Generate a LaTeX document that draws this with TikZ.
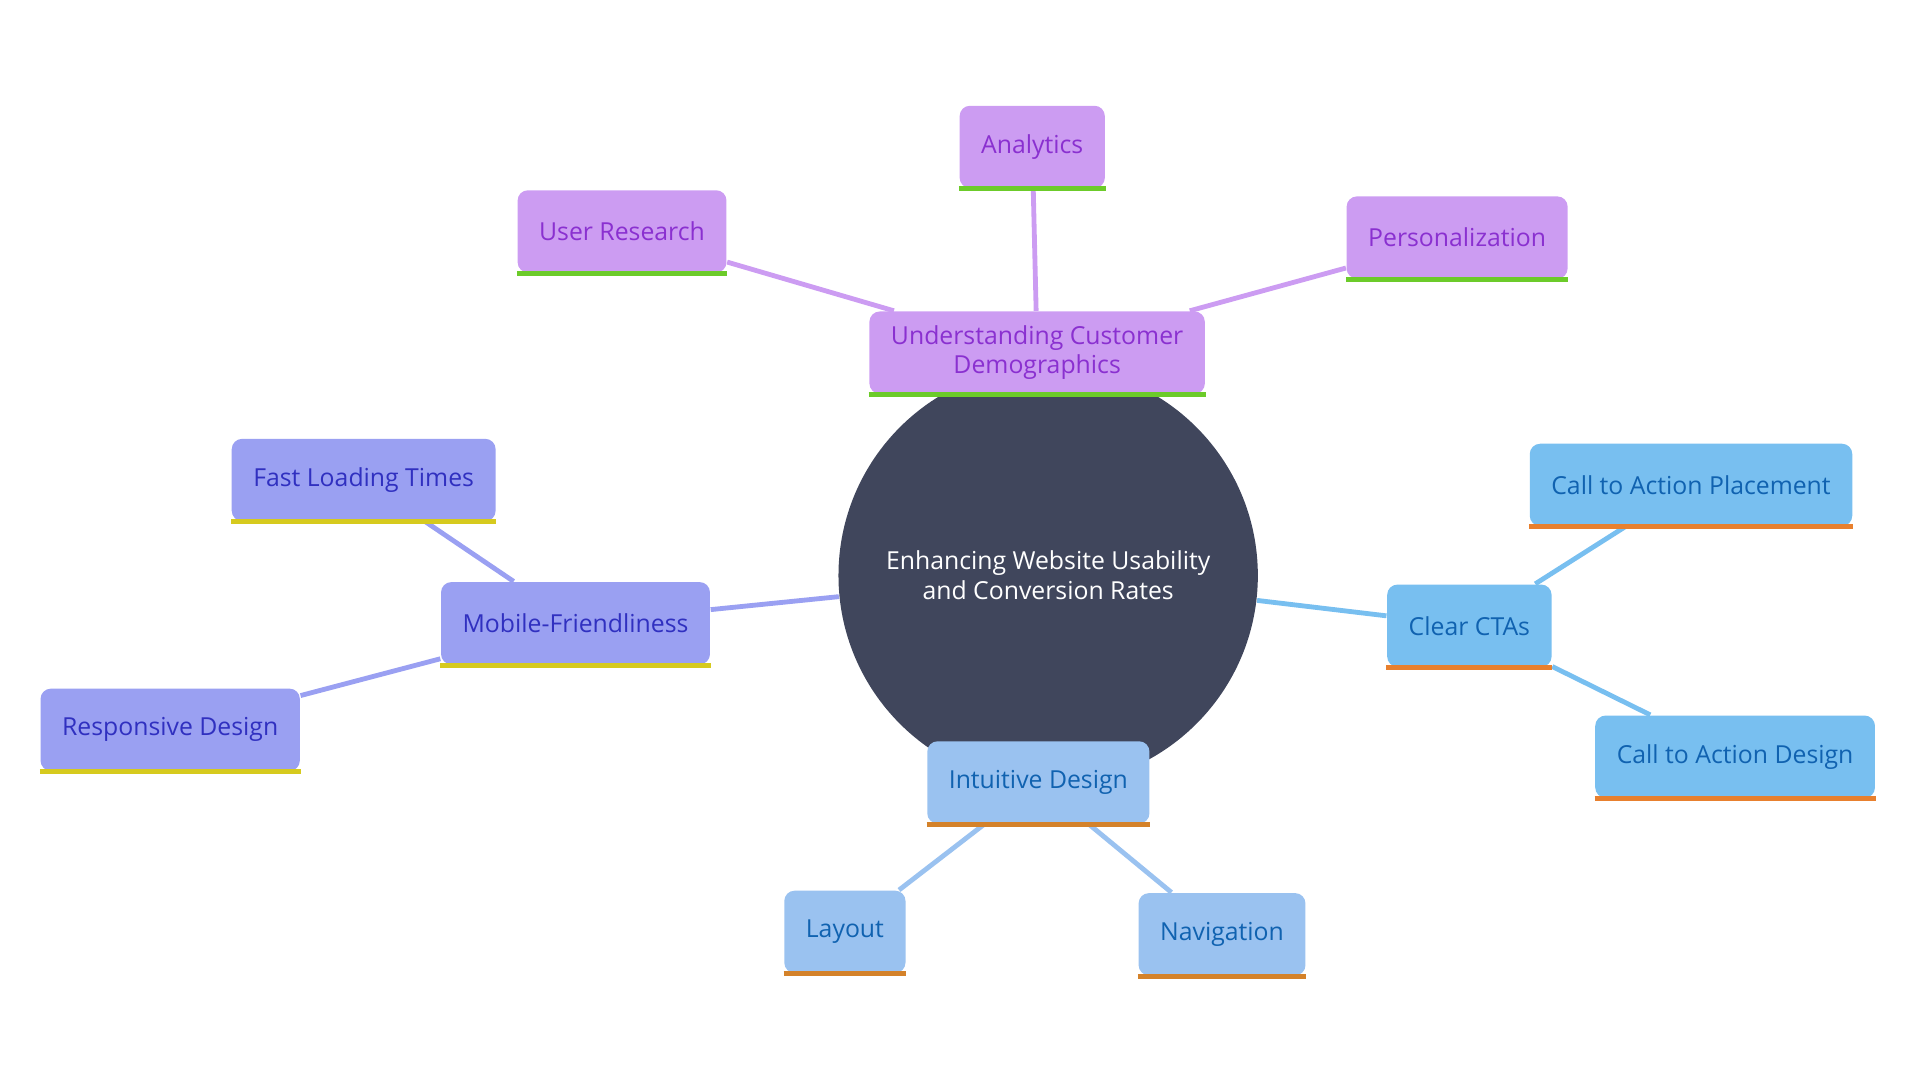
\documentclass[tikz,border=0pt]{standalone}
\usepackage{fontspec}
\setmainfont{Open Sans}
\usetikzlibrary{positioning,backgrounds}

\definecolor{hubfill}{HTML}{40465C}
\definecolor{purfill}{HTML}{CC9CF2}
\definecolor{purtext}{HTML}{8A30D0}
\definecolor{purline}{HTML}{6CCB2A}
\definecolor{violfill}{HTML}{9AA0F2}
\definecolor{violtext}{HTML}{3030C0}
\definecolor{violline}{HTML}{D6CA1E}
\definecolor{bluefill}{HTML}{78BFF0}
\definecolor{bluetext}{HTML}{1062B0}
\definecolor{blueline}{HTML}{E8802E}
\definecolor{skyfill}{HTML}{9AC2F0}
\definecolor{skyline}{HTML}{D4822A}

\tikzset{
    box/.style={rectangle, rounded corners=3pt, inner xsep=0.22cm, minimum height=0.84cm,
        font=\fontsize{7.2}{8.6}\selectfont, align=center},
    purbox/.style={box, fill=purfill, text=purtext},
    violbox/.style={box, fill=violfill, text=violtext},
    bluebox/.style={box, fill=bluefill, text=bluetext},
    skybox/.style={box, fill=skyfill, text=bluetext},
    link/.style={line width=1.4pt},
    base/.style={line width=1.5pt}
}

\begin{document}
\begin{tikzpicture}[x=0.0125cm,y=-0.0125cm]
    \useasboundingbox (0,0) rectangle (1568,882);

    % Centre
    \node[circle, fill=hubfill, text=white, minimum size=4.28cm, align=center,
        font=\fontsize{7.2}{8.6}\selectfont] (hub) at (856,470)
        {Enhancing Website Usability\\and Conversion Rates};

    % Demographics
    \node[purbox] (demo) at (847,288) {Understanding Customer\\Demographics};
    \node[purbox] (analytics) at (843,120) {Analytics};
    \node[purbox] (research) at (508,189) {User Research};
    \node[purbox] (perso) at (1190,194) {Personalization};

    % Mobile
    \node[violbox] (mobile) at (470,509) {Mobile-Friendliness};
    \node[violbox] (fast) at (297,392) {Fast Loading Times};
    \node[violbox] (responsive) at (139,596) {Responsive Design};

    % CTAs
    \node[bluebox] (cta) at (1200,511) {Clear CTAs};
    \node[bluebox] (placement) at (1381,396) {Call to Action Placement};
    \node[bluebox] (ctadesign) at (1417,618) {Call to Action Design};

    % Intuitive
    \node[skybox] (intuitive) at (848,639) {Intuitive Design};
    \node[skybox] (layout) at (690,761) {Layout};
    \node[skybox] (navigation) at (998,763) {Navigation};

    % Soulignements
    \foreach \n in {demo,analytics,research,perso}
        \draw[base,purline] (\n.south west) -- (\n.south east);
    \foreach \n in {mobile,fast,responsive}
        \draw[base,violline] (\n.south west) -- (\n.south east);
    \foreach \n in {cta,placement,ctadesign}
        \draw[base,blueline] (\n.south west) -- (\n.south east);
    \foreach \n in {intuitive,layout,navigation}
        \draw[base,skyline] (\n.south west) -- (\n.south east);

    % Liens
    \begin{scope}[on background layer]
        \draw[link,purfill] (hub) -- (demo);
        \foreach \n in {analytics,research,perso}
            \draw[link,purfill] (demo) -- (\n);
        \draw[link,violfill] (hub) -- (mobile);
        \foreach \n in {fast,responsive}
            \draw[link,violfill] (mobile) -- (\n);
        \draw[link,bluefill] (hub) -- (cta);
        \foreach \n in {placement,ctadesign}
            \draw[link,bluefill] (cta) -- (\n);
        \draw[link,skyfill] (hub) -- (intuitive);
        \foreach \n in {layout,navigation}
            \draw[link,skyfill] (intuitive) -- (\n);
    \end{scope}
\end{tikzpicture}
\end{document}
